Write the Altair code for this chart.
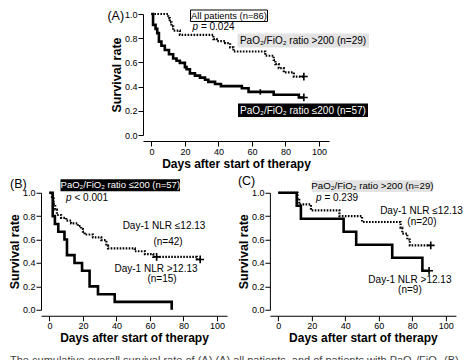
import altair as alt
import pandas as pd

FONT = "Liberation Sans"

# ---------------- data ----------------
# Panel A: all patients, PaO2/FiO2 >200 (dotted) and <=200 (solid)
a_hi_days = [0, 10, 11, 12, 13, 17, 37, 39, 44, 47, 49, 68, 73, 74, 76, 79, 85, 91]
a_hi_surv = [1.0, 0.966, 0.931, 0.897, 0.862, 0.828, 0.793, 0.776, 0.759, 0.724,
             0.69, 0.655, 0.62, 0.586, 0.552, 0.517, 0.483, 0.483]
a_lo_days = [0, 1, 2.5, 3.5, 4.5, 6, 8, 10.5, 13, 15, 17, 20, 21, 23, 26, 29, 32,
             34, 38, 41.5, 54, 58, 73, 88, 91]
a_lo_surv = [1.0, 0.91, 0.877, 0.842, 0.772, 0.737, 0.702, 0.667, 0.632, 0.614,
             0.596, 0.561, 0.544, 0.509, 0.491, 0.474, 0.456, 0.439, 0.421, 0.404,
             0.386, 0.356, 0.333, 0.31, 0.31]
a_plus_days = [91, 91]
a_plus_surv = [0.483, 0.31]
a_tick_days = [65]
a_tick_surv = [0.356]

# Panel B: PaO2/FiO2 <=200, NLR <=12.13 (dotted) and >12.13 (solid)
b_lo_days = [0, 1.5, 2.5, 3.5, 4.5, 7, 10, 13, 17, 19, 20, 21, 26, 31, 34, 35,
             51, 57, 62, 88, 90]
b_lo_surv = [1.0, 0.952, 0.905, 0.857, 0.81, 0.786, 0.762, 0.738, 0.714, 0.69,
             0.667, 0.643, 0.619, 0.595, 0.548, 0.524, 0.5, 0.476, 0.452, 0.43, 0.43]
b_hi_days = [0, 2, 3.3, 5.3, 9, 10.5, 15, 19.5, 24, 29, 39, 73]
b_hi_surv = [1.0, 0.8, 0.733, 0.667, 0.6, 0.467, 0.4, 0.333, 0.2, 0.133, 0.067, 0.0]
b_plus_days = [64, 90]
b_plus_surv = [0.452, 0.43]

# Panel C: PaO2/FiO2 >200, NLR <=12.13 (dotted) and >12.13 (solid)
c_lo_days = [0, 11.5, 12.5, 19.5, 36.5, 50, 73, 74, 77, 78.5, 91]
c_lo_surv = [1.0, 0.95, 0.9, 0.85, 0.8, 0.75, 0.7, 0.65, 0.6, 0.55, 0.55]
c_hi_days = [0, 11, 13.5, 39, 46.5, 68, 86, 90]
c_hi_surv = [1.0, 0.889, 0.778, 0.667, 0.556, 0.444, 0.333, 0.333]
c_plus_days = [91, 90]
c_plus_surv = [0.55, 0.333]

x_ticks = [0, 20, 40, 60, 80, 100]
y_ticks = [0.0, 0.2, 0.4, 0.6, 0.8, 1.0]

PLUS = "M-1,0L1,0M0,-1L0,1"
VTICK = "M0,-1L0,1"

W = 186


def xs():
    return alt.X("t:Q", scale=alt.Scale(domain=[-5, 106], nice=False),
                 axis=alt.Axis(values=x_ticks, title="Days after start of therapy",
                               offset=6, tickSize=5, labelPadding=1, titlePadding=2))


def ys():
    return alt.Y("s:Q", scale=alt.Scale(domain=[0, 1], nice=False),
                 axis=alt.Axis(values=y_ticks, format=".1f", title="Survival rate",
                               tickSize=5, labelPadding=1, titleX=-19.5,
                               titleFontSize=12.5))


def curve(days, surv, dotted):
    df = pd.DataFrame({"t": days, "s": surv})
    kw = dict(interpolate="step-after", color="black", clip=False)
    if dotted:
        m = alt.Chart(df).mark_line(strokeWidth=2.2, strokeDash=[1.6, 1.4], **kw)
    else:
        m = alt.Chart(df).mark_line(strokeWidth=2.6, **kw)
    return m.encode(x=xs(), y=ys())


def marks(days, surv, shape, size):
    df = pd.DataFrame({"t": days, "s": surv})
    return alt.Chart(df).mark_point(shape=shape, size=size, filled=False,
                                    color="black", strokeWidth=1.6, opacity=1).encode(
        x=xs(), y=ys())


def txt(x, y, s, size=10, align="center", color="black", style="normal",
        baseline="middle", weight="normal", limit=0):
    kw = {}
    if limit:
        kw.update(limit=limit, ellipsis=" ")
    return alt.Chart(pd.DataFrame({"lbl": [s]})).mark_text(
        font=FONT, fontSize=size, align=align, baseline=baseline, color=color,
        fontStyle=style, fontWeight=weight, **kw).encode(
        text="lbl:N", x=alt.value(x), y=alt.value(y))


def box(x1, x2, y1, y2, fill, stroke=None, opacity=1):
    kw = dict(fill=fill, opacity=opacity)
    if stroke:
        kw.update(stroke=stroke, strokeWidth=1)
    return alt.Chart(pd.DataFrame({"b": [0]})).mark_rect(**kw).encode(
        x=alt.value(x1), x2=alt.value(x2), y=alt.value(y1), y2=alt.value(y2))


def pval(x, y, rest):
    return txt(x, y, "p", align="left", style="italic") + \
        txt(x + 8.5, y, rest, align="left")


# ---------------- panel A ----------------
panel_a = alt.layer(
    curve(a_hi_days, a_hi_surv, True),
    curve(a_lo_days, a_lo_surv, False),
    marks(a_plus_days, a_plus_surv, PLUS, 60),
    marks(a_tick_days, a_tick_surv, VTICK, 30),
    txt(-35.6, 2.25, "(A)", size=12.5, align="left"),
    box(47.5, 124.5, -4, 7.5, "white", "black"),
    txt(86, 1.9, "All patients (n=86)", size=9.4),
    pval(49.4, 12.8, "= 0.024"),
    box(94.5, 226, 19.5, 33.5, "#e3e3e3"),
    txt(160, 26.5, "PaO\u2082/FiO\u2082 ratio >200 (n=29)"),
    box(95, 225, 89.5, 103, "black"),
    txt(160, 96.5, "PaO\u2082/FiO\u2082 ratio \u2264200 (n=57)", color="white"),
).properties(width=W, height=121)

# ---------------- panel B ----------------
panel_b = alt.layer(
    curve(b_lo_days, b_lo_surv, True),
    curve(b_hi_days, b_hi_surv, False),
    marks(b_plus_days, b_plus_surv, PLUS, 60),
    txt(-31, -8.5, "(B)", size=12.5, align="left"),
    box(19.5, 139, -13.5, -1.5, "black"),
    txt(79.3, -7.5, "PaO\u2082/FiO\u2082 ratio \u2264200 (n=57)", size=9.5, color="white"),
    pval(25, 5.2, "< 0.001"),
    txt(123, 33.5, "Day-1 NLR \u226412.13"),
    txt(127, 49.5, "(n=42)"),
    txt(115, 76, "Day-1 NLR >12.13"),
    txt(121, 86.5, "(n=15)"),
    txt(-31, 171.5, "The cumulative overall survival rate of (A) (A) all patients, and of patients with PaO\u2082/FiO\u2082 (B) \u2264200 and (C) >200",
        size=11, align="left", color="#444444", baseline="alphabetic", limit=455),
).properties(width=W, height=117)

# ---------------- panel C ----------------
panel_c = alt.layer(
    curve(c_lo_days, c_lo_surv, True),
    curve(c_hi_days, c_hi_surv, False),
    marks(c_plus_days, c_plus_surv, PLUS, 60),
    txt(-32, -11.5, "(C)", size=12.5, align="left"),
    box(42, 163, -12.5, -0.8, "#e3e3e3"),
    txt(102.5, -6.6, "PaO\u2082/FiO\u2082 ratio >200 (n=29)", size=9.7),
    pval(46, 5.2, "= 0.239"),
    txt(151.6, 18.5, "Day-1 NLR \u226412.13"),
    txt(152, 29.2, "(n=20)"),
    txt(140, 86.8, "Day-1 NLR >12.13"),
    txt(140, 96.8, "(n=9)"),
).properties(width=W, height=117)

SPACER_W = 57.6
spacer = box(0, SPACER_W, 0, 121, "white", opacity=0).properties(
    width=SPACER_W, height=121)

top_row = alt.hconcat(spacer, panel_a, spacing=44, bounds="flush")
bottom_row = alt.hconcat(panel_b, panel_c, spacing=42.9, bounds="flush")

chart = alt.vconcat(
    top_row, bottom_row, spacing=5.75,
).properties(
    padding={"left": 0, "top": 0, "right": 0, "bottom": 0},
).configure_view(stroke=None).configure_axis(
    grid=False, domainColor="black", tickColor="black", labelColor="black",
    titleColor="black", labelFont=FONT, titleFont=FONT, labelFontSize=9,
    titleFontSize=12, titleFontWeight="bold", domainWidth=1, tickWidth=1,
)

chart.save("out.html", embed_options={"renderer": "svg", "actions": False})
